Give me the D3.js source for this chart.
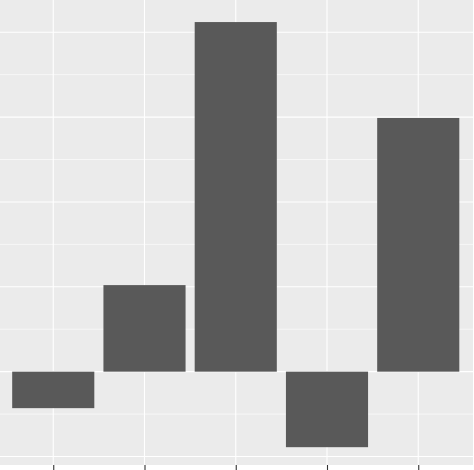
<!DOCTYPE html>
<html>
<head>
<meta charset="utf-8">
<script src="https://cdn.jsdelivr.net/npm/d3@7/dist/d3.min.js"></script>
<style>
html, body { margin: 0; padding: 0; background: #ffffff; }
svg { display: block; }
</style>
</head>
<body>
<svg id="chart" width="474" height="470"></svg>
<script>
// Data
const categories = ["A", "B", "C", "D", "E"];
const values = [-0.43, 1.02, 4.12, -0.89, 2.99];
const yMajorTicks = [-1, 0, 1, 2, 3, 4];
const yMinorTicks = [-0.5, 0.5, 1.5, 2.5, 3.5];

const W = 474, H = 470;
const panel = { left: -1.5, right: 473, top: 0, bottom: 465 };

const svg = d3.select("#chart");

const x = d3.scaleLinear()
  .domain([0.4, categories.length + 0.6])
  .range([panel.left, panel.right]);

const y = d3.scaleLinear()
  .domain([-1.1, 4.38])
  .range([panel.bottom, panel.top]);

// panel background
svg.append("rect")
  .attr("x", panel.left).attr("y", panel.top)
  .attr("width", panel.right - panel.left)
  .attr("height", panel.bottom - panel.top)
  .attr("fill", "#EBEBEB");

const grid = svg.append("g");
// minor horizontal grid
grid.selectAll("line.minor").data(yMinorTicks).join("line")
  .attr("class", "minor")
  .attr("x1", panel.left).attr("x2", panel.right)
  .attr("y1", d => y(d)).attr("y2", d => y(d))
  .attr("stroke", "#ffffff").attr("stroke-width", 0.6);
// major horizontal grid
grid.selectAll("line.major").data(yMajorTicks).join("line")
  .attr("class", "major")
  .attr("x1", panel.left).attr("x2", panel.right)
  .attr("y1", d => y(d)).attr("y2", d => y(d))
  .attr("stroke", "#ffffff").attr("stroke-width", 1.1);
// vertical grid
grid.selectAll("line.vx").data(categories).join("line")
  .attr("class", "vx")
  .attr("x1", (d, i) => x(i + 1)).attr("x2", (d, i) => x(i + 1))
  .attr("y1", panel.top).attr("y2", panel.bottom)
  .attr("stroke", "#ffffff").attr("stroke-width", 1.1);

// bars
const barW = 0.9;
svg.append("g").selectAll("rect").data(values).join("rect")
  .attr("x", (d, i) => x(i + 1 - barW / 2))
  .attr("width", (d, i) => x(i + 1 + barW / 2) - x(i + 1 - barW / 2))
  .attr("y", d => y(Math.max(0, d)))
  .attr("height", d => Math.abs(y(d) - y(0)))
  .attr("fill", "#595959");

// x axis ticks
const xAxis = d3.axisBottom(x)
  .tickValues(categories.map((d, i) => i + 1))
  .tickFormat("")
  .tickSize(5)
  .tickSizeOuter(0);
const ax = svg.append("g")
  .attr("transform", `translate(0,${panel.bottom})`)
  .call(xAxis);
ax.select(".domain").remove();
ax.selectAll(".tick line").attr("stroke", "#333333").attr("stroke-width", 1.1);
</script>
</body>
</html>
